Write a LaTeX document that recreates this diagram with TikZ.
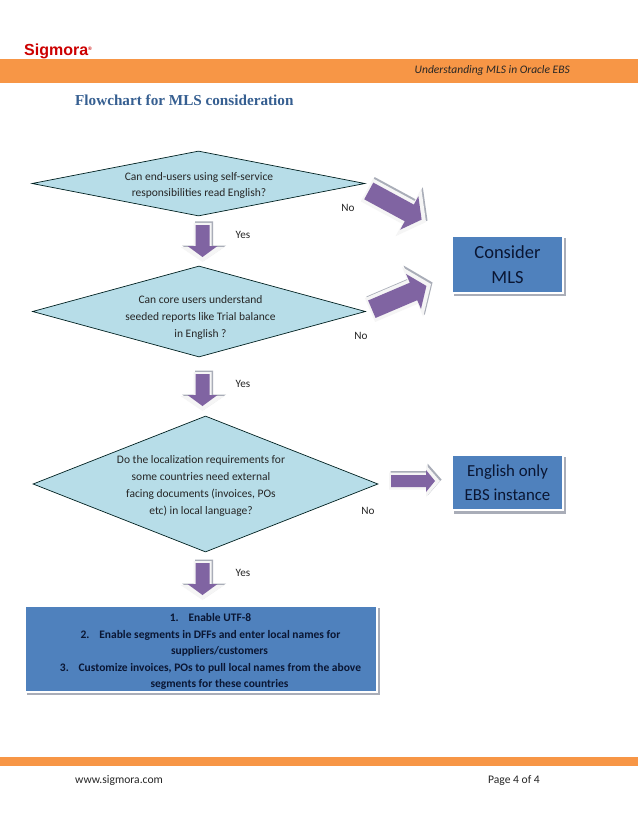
\documentclass[tikz,border=0pt]{standalone}
\usepackage{fontspec}
\setmainfont{Carlito}
\newfontfamily\titlefont{Liberation Serif}
\newfontfamily\logofont{Liberation Sans}
\usetikzlibrary{calc,shapes.geometric}
\definecolor{barorange}{HTML}{F79646}
\definecolor{boxblue}{HTML}{4F81BD}
\definecolor{dialight}{HTML}{B7DDE8}
\definecolor{arrowpurple}{HTML}{8064A2}
\definecolor{titleblue}{HTML}{365F91}
\definecolor{inkdark}{HTML}{0A1633}
\definecolor{shadowgrey}{HTML}{A9ADB8}
\tikzset{
  decision/.style={diamond,draw=black!75!teal,fill=dialight,line width=0.7pt,inner sep=0pt,text width=0pt},
  label/.style={inner sep=0pt,font=\fontsize{11.5}{16.9}\selectfont,align=center,text=black!85},
  smalltext/.style={inner sep=0pt,font=\fontsize{11.2}{13}\selectfont,text=black!85},
  bigbox/.style={inner sep=0pt,fill=boxblue,draw=white,line width=2pt,align=center,text=inkdark},
  boxshadow/.style={fill=shadowgrey,draw=none},
}
% tail, tip, half body width, half head width, head length, offset, colour
\newcommand{\arrowshape}[7]{%
  \fill[#7] (#1) ++(#6) coordinate (tl) (#2) ++(#6) coordinate (tp)
   ($(tl)!#3!90:(tp)$) -- ($($(tp)!#5!(tl)$)!#3!-90:(tl)$) -- ($($(tp)!#5!(tl)$)!#4!-90:(tl)$) -- (tp)
   -- ($($(tp)!#5!(tl)$)!#4!90:(tl)$) -- ($($(tp)!#5!(tl)$)!#3!90:(tl)$) -- ($(tl)!#3!-90:(tp)$) -- cycle;}
% outer half body, outer half head, outer head length; inner likewise
\newcommand{\blockarrow}[8]{%
  \arrowshape{#1}{#2}{#3}{#4}{#5}{1.5pt,1.5pt}{shadowgrey}%
  \arrowshape{#1}{#2}{#3}{#4}{#5}{0pt,0pt}{white!96!black}%
  \arrowshape{$(#1)!2pt!(#2)$}{$(#2)!5pt!(#1)$}{#6}{#7}{#8}{0pt,0pt}{arrowpurple}}
\begin{document}
\begin{tikzpicture}[x=1pt,y=-1pt]
\useasboundingbox (0,0) rectangle (638,826);
\fill[white] (0,0) rectangle (638,826);
% page furniture
\fill[barorange] (0,59) rectangle (638,83.5);
\fill[barorange] (0,757) rectangle (638,766);
\node[anchor=west,inner sep=0pt,text=red!80!black,font=\logofont\bfseries\fontsize{16}{18}\selectfont] (logo) at (24,51.5) {Sigmora\raisebox{5pt}{\fontsize{5}{5}\selectfont\textregistered}};
\node[anchor=base east,inner sep=0pt,font=\itshape\fontsize{11.5}{13}\selectfont,text=black!85] (head) at (570,74) {Understanding MLS in Oracle EBS};
\node[anchor=west,inner sep=0pt,text=titleblue,font=\titlefont\bfseries\fontsize{15.2}{17}\selectfont] (title) at (75,100) {Flowchart for MLS consideration};
\node[anchor=base west,inner sep=0pt,font=\fontsize{11.6}{13}\selectfont,text=black!85] (site) at (75,783) {www.sigmora.com};
\node[anchor=base east,inner sep=0pt,font=\fontsize{11.6}{13}\selectfont,text=black!85] (page) at (540,783) {Page 4 of 4};
% decisions
\node[decision,minimum width=333pt,minimum height=65pt,aspect=5] (d1) at (198.5,183.5) {};
\node[decision,minimum width=333pt,minimum height=91pt,aspect=3.6] (d2) at (199,311.5) {};
\node[decision,minimum width=345pt,minimum height=136pt,aspect=2.5] (d3) at (205.5,484) {};
\node[label] (t1) at (199,185.5) {Can end-users using self-service\\responsibilities read English?};
\node[label] (t2) at (200.5,317.5) {Can core users understand\\seeded reports like Trial balance\\in English ?};
\node[label] (t3) at (201,486) {Do the localization requirements for\\some countries need external\\facing documents (invoices, POs\\etc) in local language?};
% outcome boxes
\fill[boxshadow] (451,235) ++(2.5,2.5) rectangle (566,296);
\node[bigbox,minimum width=111pt,minimum height=57pt,font=\fontsize{18.5}{24.5}\selectfont] (mls) at (507.5,264.5) {Consider\\MLS};
\fill[boxshadow] (451,454) ++(2.5,2.5) rectangle (566,514);
\node[bigbox,minimum width=111pt,minimum height=55pt,font=\fontsize{16.8}{23.5}\selectfont] (eng) at (507.5,482.5) {English only\\EBS instance};
\fill[boxshadow] (24,605) ++(2.5,2.5) rectangle (380,695);
\node[inner sep=0pt,fill=boxblue,draw=white,line width=2pt,minimum width=352pt,minimum height=86pt] (steps) at (201,649) {};
\begin{scope}
\clip (26,607) rectangle (376,688);
\node[inner sep=0pt,anchor=north,align=center,text=inkdark,font=\bfseries\fontsize{11.5}{16.5}\selectfont] (stepstext) at (210.5,613.5)
 {1.\hspace{0.85em}Enable UTF-8\\2.\hspace{0.85em}Enable segments in DFFs and enter local names for\\\hspace{18pt}suppliers/customers\\3.\hspace{0.85em}Customize invoices, POs to pull local names from the above\\\hspace{18pt}segments for these countries};
\end{scope}
% connectors
\coordinate (a1s) at (202.5,223); \coordinate (a1e) at (202.5,262);
\coordinate (a2s) at (202.5,372); \coordinate (a2e) at (202.5,411);
\coordinate (a3s) at (202.5,561); \coordinate (a3e) at (202.5,600);
\blockarrow{a1s}{a1e}{9pt}{22pt}{15pt}{7pt}{15pt}{11pt}
\blockarrow{a2s}{a2e}{9pt}{22pt}{15pt}{7pt}{15pt}{11pt}
\blockarrow{a3s}{a3e}{9pt}{22pt}{15pt}{7pt}{15pt}{11pt}
\coordinate (b1s) at (367,190); \coordinate (b1e) at (426,222);
\coordinate (b2s) at (370,310); \coordinate (b2e) at (431,284);
\coordinate (b3s) at (389,481); \coordinate (b3e) at (440,481);
\blockarrow{b1s}{b1e}{13pt}{27pt}{20pt}{9.5pt}{19pt}{14pt}
\blockarrow{b2s}{b2e}{13pt}{27pt}{20pt}{9.5pt}{19pt}{14pt}
\blockarrow{b3s}{b3e}{8.5pt}{16pt}{14pt}{6pt}{11pt}{9pt}
% branch labels
\node[smalltext] (y1) at (243,235) {Yes};
\node[smalltext] (y2) at (243,384) {Yes};
\node[smalltext] (y3) at (243,573) {Yes};
\node[smalltext] (n1) at (348,208) {No};
\node[smalltext] (n2) at (361,336) {No};
\node[smalltext] (n3) at (368,511) {No};
\end{tikzpicture}
\end{document}
